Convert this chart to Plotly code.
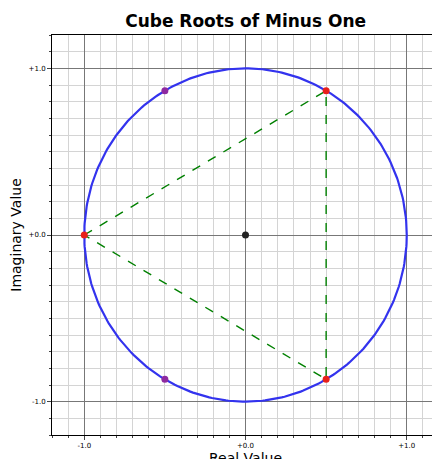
import numpy as np
import plotly.graph_objects as go

root_x = [-1.0, 0.5, 0.5]
root_y = [0.0, 0.866, -0.866]
other_x = [-0.5, -0.5]
other_y = [0.866, -0.866]
origin_x = [0.0]
origin_y = [0.0]
tick_vals = [-1.0, 0.0, 1.0]
tick_text = ["-1.0", "+0.0", "+1.0"]

t = np.linspace(0, 2*np.pi, 361)
fig = go.Figure()
fig.add_trace(go.Scatter(x=np.cos(t), y=np.sin(t), mode="lines", line=dict(color="#3333ee", width=2.2)))
fig.add_trace(go.Scatter(x=root_x + [root_x[0]], y=root_y + [root_y[0]], mode="lines",
                         line=dict(color="green", width=1.4, dash="dash")))
fig.add_trace(go.Scatter(x=other_x, y=other_y, mode="markers", marker=dict(color="#8e2aa0", size=7)))
fig.add_trace(go.Scatter(x=root_x, y=root_y, mode="markers", marker=dict(color="#e8201a", size=7)))
fig.add_trace(go.Scatter(x=origin_x, y=origin_y, mode="markers", marker=dict(color="#222222", size=7)))

ax = dict(range=[-1.2, 1.2], tickvals=tick_vals, ticktext=tick_text, showgrid=True, automargin=False,
          gridcolor="#777777", gridwidth=1, zeroline=False, showline=True, linecolor="black", mirror=True,
          ticks="outside", ticklen=4, tickfont=dict(size=7, family="DejaVu Sans"),
          minor=dict(dtick=0.1, showgrid=True, gridcolor="#d4d4d4", ticks="outside", ticklen=2))
fig.update_layout(
    width=440, height=459, showlegend=False, plot_bgcolor="white", paper_bgcolor="white",
    margin=dict(l=44, r=9, t=27, b=32, pad=0),
    title=dict(text="<b>Cube Roots of Minus One</b>", x=0.54, xanchor="center", y=0.985, yanchor="top",
               font=dict(size=17, family="DejaVu Sans", color="black")),
    font=dict(family="DejaVu Sans", color="black"),
)
fig.update_xaxes(**ax, title=dict(text="Real Value", font=dict(size=14), standoff=2))
fig.update_yaxes(**ax, title=dict(text="Imaginary Value", font=dict(size=14), standoff=4))
fig.write_html("out.html")
